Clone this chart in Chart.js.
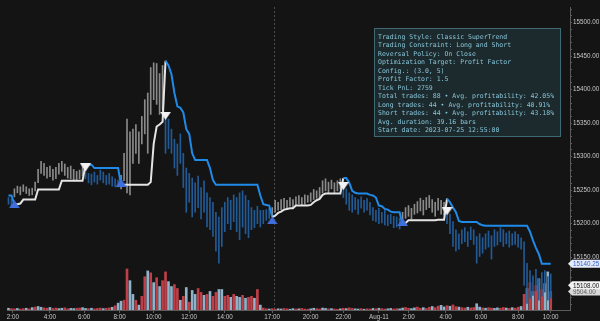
<!DOCTYPE html>
<html><head><meta charset="utf-8">
<script src="https://cdn.jsdelivr.net/npm/chart.js@4.4.0/dist/chart.umd.min.js"></script>
<style>html,body{margin:0;padding:0;background:#141414;overflow:hidden}#wrap{width:600px;height:321px}</style>
</head><body><div id="wrap"><canvas id="c" width="600" height="321"></canvas></div>
<script>
// ---- data (10-minute bars, index 0 = first bar) ----
const barHigh = [
15239,15237,15252,15256,15255,15258,15255,15252,15253,15262,
15281,15293,15290,15284,15286,15281,15284,15290,15293,15289,
15284,15286,15281,15278,15280,15286,15283,15275,15274,15277,
15272,15280,15277,15272,15275,15270,15267,15265,15272,15305,
15356,15337,15341,15348,15337,15360,15385,15395,15433,15440,
15439,15424,15436,15363,15356,15341,15326,15319,15334,15305,
15283,15275,15268,15261,15271,15254,15264,15246,15239,15232,
15217,15210,15224,15232,15239,15235,15243,15239,15246,15249,
15242,15235,15224,15220,15226,15220,15220,15221,15223,15224,
15235,15232,15236,15238,15235,15239,15236,15240,15242,15239,
15243,15242,15246,15251,15249,15254,15264,15267,15262,15265,
15261,15264,15267,15258,15252,15246,15243,15239,15236,15240,
15235,15238,15232,15224,15220,15223,15217,15220,15213,15214,
15211,15210,15208,15217,15224,15227,15223,15229,15233,15238,
15235,15239,15242,15236,15232,15238,15235,15232,15224,15214,
15203,15191,15185,15191,15194,15188,15195,15191,15181,15185,
15179,15185,15189,15182,15191,15188,15194,15191,15186,15189,
15185,15188,15184,15179,15173,15141,15130,15122,15132,15118,
15127,15130,15121,15125];
const barLow = [
15229,15226,15240,15246,15243,15248,15245,15242,15243,15249,
15261,15275,15272,15268,15270,15265,15267,15274,15278,15272,
15268,15267,15265,15264,15267,15271,15267,15261,15258,15262,
15259,15265,15261,15258,15259,15256,15255,15255,15252,15264,
15246,15243,15290,15305,15290,15319,15334,15305,15363,15385,
15378,15363,15370,15305,15312,15305,15283,15272,15290,15254,
15217,15232,15210,15217,15224,15207,15217,15195,15191,15181,
15159,15141,15166,15188,15200,15191,15203,15188,15176,15195,
15185,15179,15191,15194,15200,15195,15200,15205,15208,15211,
15217,15220,15221,15223,15224,15226,15223,15227,15230,15227,
15229,15232,15233,15236,15238,15239,15246,15249,15246,15252,
15245,15249,15252,15239,15229,15220,15217,15221,15214,15223,
15217,15220,15213,15205,15203,15200,15201,15198,15197,15200,
15194,15195,15192,15197,15208,15211,15207,15214,15216,15219,
15213,15221,15224,15217,15211,15220,15214,15213,15200,15185,
15166,15159,15162,15170,15173,15166,15176,15169,15141,15151,
15156,15162,15165,15147,15166,15168,15173,15166,15170,15165,
15168,15169,15165,15162,15108,15081,15089,15093,15100,15086,
15092,15098,15086,15089];
const superTrend = [
15242,15242,15229,15229,15230,15236,15236,15236,15236,15236,
15251,15251,15251,15251,15251,15251,15251,15251,15264,15264,
15264,15264,15264,15264,15264,15264,15288,15288,15288,15283,
15283,15283,15283,15283,15283,15283,15283,15283,15258,15258,
15258,15258,15258,15258,15258,15258,15258,15258,15262,15319,
15345,15348,15352,15443,15436,15423,15395,15375,15373,15366,
15341,15334,15305,15295,15295,15295,15295,15295,15283,15265,
15258,15258,15258,15258,15258,15258,15258,15258,15258,15258,
15258,15258,15258,15258,15258,15242,15229,15228,15227,15210,
15212,15216,15218,15221,15222,15223,15223,15227,15227,15227,
15227,15227,15228,15232,15235,15237,15243,15245,15245,15245,
15245,15245,15245,15268,15268,15261,15249,15246,15245,15245,
15245,15245,15243,15242,15239,15227,15226,15222,15221,15218,
15217,15217,15217,15198,15201,15205,15205,15205,15205,15205,
15205,15205,15205,15205,15205,15206,15206,15206,15237.5,15232,
15224,15217,15204,15202.5,15202.5,15202.5,15202.5,15202.5,15202.5,15199.5,
15197.5,15196.75,15196.75,15196.75,15196.75,15196.75,15196.75,15196.75,15196.75,15196.75,
15196.75,15196.75,15196.75,15196.75,15196.75,15196.75,15188,15175,15164,15154.5,
15140.25,15140.25,15140.25,15140.25];
const flipBars = [2, 26, 38, 53, 89, 113, 133, 148];
const flipSide = ['up','down','up','down','up','down','up','down'];
const longBars = [2, 38, 89, 133];
const longPrices = [15229, 15261, 15205, 15202.5];
const shortBars = [26, 53, 113, 148];
const shortPrices = [15284, 15361, 15256, 15218.5];
const volumes = [
900,700,600,800,500,700,900,600,1200,1500,
1800,1400,1100,900,1300,800,1000,700,900,1100,
600,800,700,900,1000,1200,800,700,900,600,
800,1000,700,900,1100,1400,2200,3500,
4500,5000,21000,15000,8000,5000,2500,7000,17000,20000,19000,14000,
16500,12000,15000,19500,14500,12000,13000,11000,5000,7000,
11500,4000,10000,8000,11000,9000,7500,8000,9500,7000,
9000,10500,10500,7000,7500,6500,8000,7000,6500,7500,
6000,6500,7000,6000,10500,2500,1000,600,500,700,
400,600,500,800,600,400,700,500,600,800,
500,400,600,900,700,500,1000,800,600,700,
500,400,600,900,700,1100,800,600,500,700,
400,600,500,800,600,900,700,500,600,800,
500,700,600,1000,1300,900,700,1100,1500,900,
1200,800,1400,1800,1200,2000,2400,1600,2200,1900,
2600,1700,1500,1200,1000,1400,1100,1300,3200,1500,
1100,900,1200,1000,800,1100,900,1300,1000,800,
1200,900,1400,1800,8000,11000,14000,9500,12500,16000,
10500,13500,19500,9504];
const volSide = ("udduddudud"+"uuddudduud"+"duudduudud"+"dduddudu"+"udduududdudu"+
  "dudduuddud"+"uduuddudud"+"duudduduud"+"uddududdud"+"duudduudud"+"dduudduudu"+
  "ddududduud"+"uddududduu"+"dduudduudd"+"uddudduudu"+"dduddudduu"+"dudduuddud"+
  "uddudududu"+"duud").split('');
const xTickBars = [1.5, 14, 25.5, 37.5, 49, 61, 73, 89, 102, 113, 125, 135, 147.5, 159.5, 172, 183];
const xTickLabels = ['2:00','4:00','6:00','8:00','10:00','12:00','14:00','17:00','20:00','22:00','Aug-11','2:00','4:00','6:00','8:00','10:00'];
const priceLabels = [15150, 15200, 15250, 15300, 15350, 15400, 15450, 15500];
const priceMinorStep = 10;
const sessionBreakBar = 89.5;
const lastClose = 15108.00;
const infoLines = [
 'Trading Style: Classic SuperTrend',
 'Trading Constraint: Long and Short',
 'Reversal Policy: On Close',
 'Optimization Target: Profit Factor',
 'Config.: (3.0, 5)',
 'Profit Factor: 1.5',
 'Tick PnL: 2759',
 'Total trades: 88 \u2022 Avg. profitability: 42.05%',
 'Long trades: 44 \u2022 Avg. profitability: 40.91%',
 'Short trades: 44 \u2022 Avg. profitability: 43.18%',
 'Avg. duration: 39.16 bars',
 'Start date: 2023-07-25 12:55:00'
];

// ---- styling ----
const BG = '#141414';
const ST_UP = '#e4e4e4', ST_DN = '#1f8ae8';
const CANDLE_UP = '#8a8a8a', CANDLE_DN = '#225a96';
const VOL_UP = '#8fb2c9', VOL_DN = '#bf3f48';
const AX = '#5c5c5c', TXT = '#c6c6c6';
const FONT = '"Liberation Sans", Arial, sans-serif';

const dir = [];
{ let cur = 'down', fi = 0;
  for (let i = 0; i < barHigh.length; i++) {
    if (fi < flipBars.length && flipBars[fi] === i) { cur = flipSide[fi]; fi++; }
    dir.push(cur);
  } }

function triangle(color, down) {
  const c = document.createElement('canvas'); c.width = 11; c.height = 8;
  const g = c.getContext('2d'); g.fillStyle = color; g.beginPath();
  if (down) { g.moveTo(0,0); g.lineTo(11,0); g.lineTo(5.5,8); }
  else { g.moveTo(5.5,0); g.lineTo(11,8); g.lineTo(0,8); }
  g.closePath(); g.fill(); return c;
}

const yTicks = [];
for (let v = 15080; v <= 15520; v += priceMinorStep) yTicks.push(v);

const bgPlugin = {
  id: 'bg',
  beforeDraw(chart) { const c = chart.ctx; c.save(); c.fillStyle = BG; c.fillRect(0,0,chart.width,chart.height); c.restore(); },
  beforeDatasetsDraw(chart) {
    const c = chart.ctx, a = chart.chartArea;
    const x = Math.round(chart.scales.x.getPixelForValue(sessionBreakBar)) + 0.5;
    c.save(); c.strokeStyle = '#4a4a4a'; c.lineWidth = 1; c.setLineDash([2,2]);
    c.beginPath(); c.moveTo(x, a.top); c.lineTo(x, a.bottom); c.stroke(); c.restore();
  },
  afterDatasetsDraw(chart) {
    const c = chart.ctx;
    c.save();
    c.fillStyle = '#1d2a2d'; c.fillRect(374.5, 28.5, 186, 108);
    c.strokeStyle = '#3f6a74'; c.lineWidth = 1; c.strokeRect(374.5, 28.5, 186, 108);
    c.fillStyle = '#86c4d8'; c.font = '6.5px "DejaVu Sans Mono", monospace';
    c.textBaseline = 'middle'; c.textAlign = 'left';
    infoLines.forEach((t, k) => c.fillText(t, 378, 37 + k * 8.5));
    c.restore();
  },
  afterDraw(chart) {
    const c = chart.ctx;
    function tag(y, text, bg, fg) {
      const h = 8; c.save();
      c.fillStyle = bg; c.beginPath();
      c.moveTo(568, y); c.lineTo(572, y - h/2); c.lineTo(600, y - h/2); c.lineTo(600, y + h/2); c.lineTo(572, y + h/2);
      c.closePath(); c.fill();
      c.fillStyle = fg; c.font = '6.3px ' + FONT; c.textBaseline = 'middle'; c.textAlign = 'left';
      c.fillText(text, 573, y + 0.5); c.restore();
    }
    const lastVol = volumes[volumes.length - 1];
    tag(chart.scales.yv.getPixelForValue(lastVol), lastVol.toFixed(2), '#d9d9d9', '#555');
    tag(chart.scales.y.getPixelForValue(lastClose), lastClose.toFixed(2), '#f2f2f2', '#111');
    const lastST = superTrend[superTrend.length - 1];
    tag(chart.scales.y.getPixelForValue(lastST), lastST.toFixed(2), '#e6ebf7', '#2f62d8');
  }
};

new Chart(document.getElementById('c'), {
  type: 'bar',
  data: { datasets: [
    { type: 'scatter', data: longBars.map((b,k)=>({x:b, y:longPrices[k]})), pointStyle: triangle('#3e6fdc', false), pointRadius: 6, order: 1, yAxisID: 'y' },
    { type: 'scatter', data: shortBars.map((b,k)=>({x:b, y:shortPrices[k]})), pointStyle: triangle('#f2f2f2', true), pointRadius: 6, order: 1, yAxisID: 'y' },
    { type: 'line', data: superTrend.map((v,i)=>({x:i, y:v})), borderWidth: 2, pointRadius: 0, tension: 0, fill: false,
      borderColor: ST_DN, segment: { borderColor: s => dir[s.p0DataIndex] === 'up' ? ST_UP : ST_DN }, order: 2, yAxisID: 'y' },
    { type: 'bar', data: barHigh.map((h,i)=>({x:i, y:[barLow[i], h]})), backgroundColor: dir.map(d => d === 'up' ? CANDLE_UP : CANDLE_DN),
      barThickness: 1, grouped: false, borderWidth: 0, order: 4, yAxisID: 'y' },
    { type: 'bar', data: volumes.map((v,i)=>({x:i, y:v})), backgroundColor: volSide.map(s => s === 'u' ? VOL_UP : VOL_DN),
      barThickness: 2, grouped: false, borderWidth: 0, order: 5, yAxisID: 'yv' }
  ]},
  options: {
    responsive: false, animation: false, devicePixelRatio: 1,
    layout: { padding: 0 },
    plugins: { legend: { display: false }, tooltip: { enabled: false } },
    scales: {
      x: { type: 'linear', min: -0.5, max: 189.5, offset: false, position: 'bottom',
        grid: { display: true, drawOnChartArea: false, drawTicks: true, tickLength: 3, color: AX, offset: false },
        border: { display: true, color: AX },
        ticks: { autoSkip: false, maxRotation: 0, minRotation: 0, padding: 0, color: TXT, font: { family: FONT, size: 6.3 },
          callback: (v, i) => xTickLabels[i] },
        afterBuildTicks: a => { a.ticks = xTickBars.map(v => ({ value: v })); },
        afterFit: a => { a.height = 11; a.paddingLeft = 0; a.paddingRight = 0; } },
      y: { type: 'linear', position: 'right', min: 15071.2, max: 15523.3,
        grid: { display: true, drawOnChartArea: false, drawTicks: true, tickLength: 2, color: AX },
        border: { display: true, color: AX },
        ticks: { autoSkip: false, padding: 1, color: TXT, font: { family: FONT, size: 6.3 },
          callback: v => priceLabels.includes(v) ? v.toFixed(2) : '' },
        afterBuildTicks: a => { a.ticks = yTicks.map(v => ({ value: v })); },
        afterFit: a => { a.width = 30; a.paddingTop = 0; a.paddingBottom = 0; } },
      yv: { type: 'linear', display: false, min: 0, max: 155000 }
    }
  },
  plugins: [bgPlugin]
});
</script></body></html>
